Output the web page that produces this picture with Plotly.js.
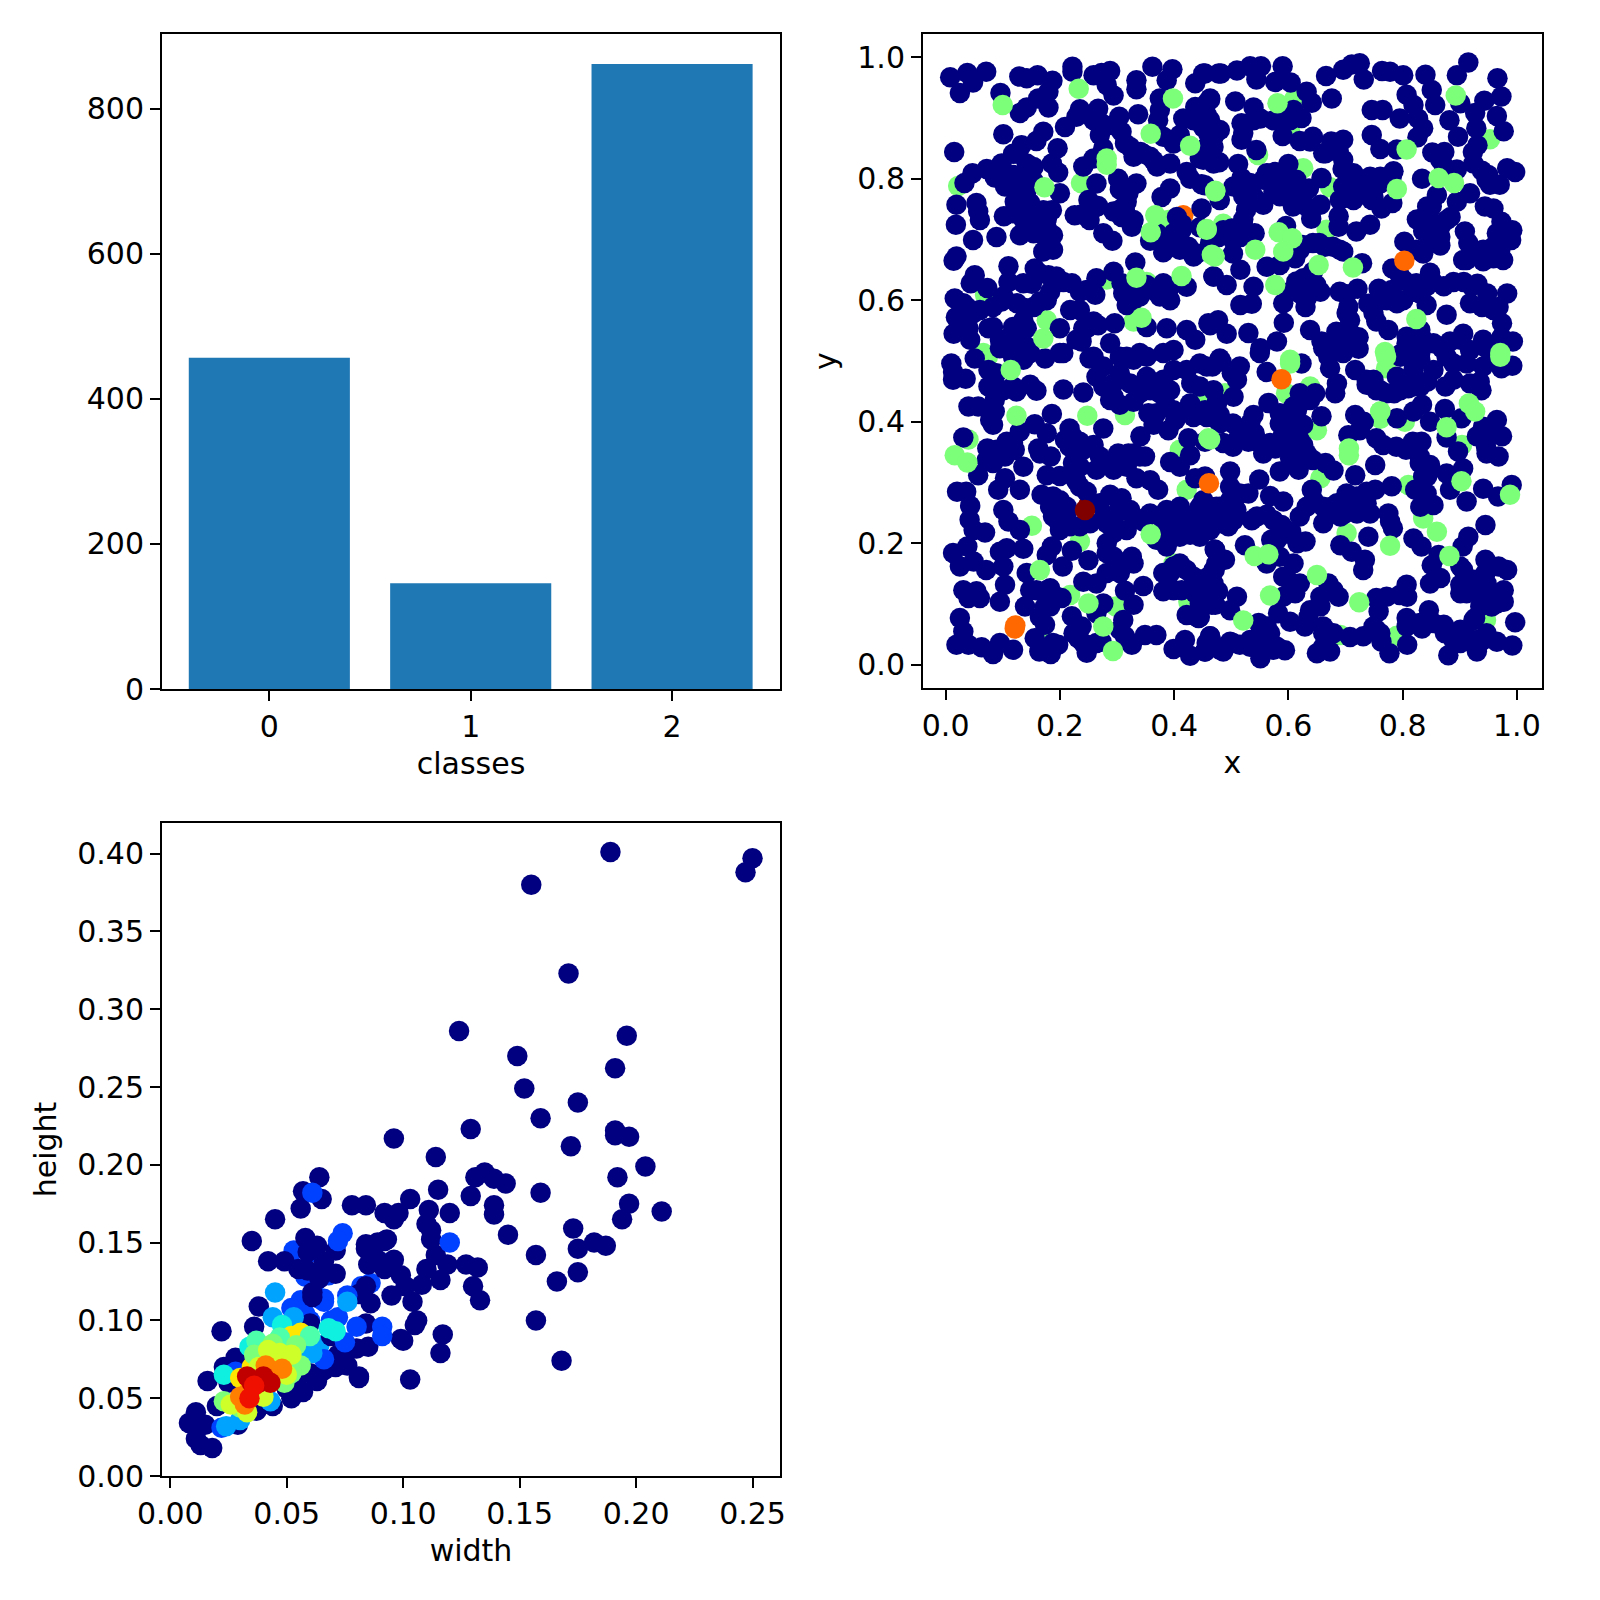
<!DOCTYPE html>
<html><head><meta charset="utf-8">
<script src="https://cdn.plot.ly/plotly-3.0.1.min.js"></script>
<style>html,body{margin:0;padding:0;background:#fff}</style></head>
<body><div id="chart" style="width:1600px;height:1600px"></div>
<script>
const classLabels=[0,1,2];
const classCounts=[457,146,862];

const xyGreenUnder=[[.237,.793],[.022,.788],[.390,.732],[.352,.630],[.282,.634],[.329,.565],[.177,.567],[.069,.609],[.066,.513],[.611,.932],[.603,.877],[.547,.839],[.626,.817],[.953,.865],[.673,.786],[.667,.716],[.486,.726],[.971,.530],[.074,.507],[.314,.411],[.040,.371],[.448,.430],[.422,.288],[.410,.354],[.151,.229],[.235,.203],[.218,.115],[.298,.096],[.174,.038],[.399,.167],[.425,.104],[.771,.488],[.596,.447],[.638,.458],[.489,.447],[.457,.433],[.804,.400],[.650,.386],[.904,.362],[.656,.307],[.810,.296],[.836,.241],[.860,.219],[.702,.217],[.946,.074],[.691,.049],[.790,.048],[.761,.417],[.761,.405]];
const xyOrangeUnder=[[.416,.740]];
const xyMaroonUnder=[[.250,.263]];
const xyNavy=[[.008,.967],[.038,.974],[.025,.941],[.048,.958],[.071,.976],[.096,.941],[.129,.968],[.142,.965],[.161,.970],[.187,.961],[.180,.943],[.162,.932],[.180,.917],[.142,.917],[.130,.908],[.222,.984],[.222,.976],[.259,.970],[.273,.974],[.288,.977],[.282,.954],[.294,.937],[.334,.962],[.334,.947],[.362,.984],[.397,.980],[.387,.962],[.375,.932],[.437,.957],[.451,.973],[.478,.973],[.437,.918],[.463,.932],[.235,.914],[.267,.915],[.304,.902],[.337,.906],[.375,.913],[.372,.896],[.416,.899],[.229,.902],[.209,.885],[.259,.896],[.273,.891],[.270,.872],[.308,.877],[.314,.858],[.101,.873],[.171,.877],[.159,.862],[.133,.855],[.196,.850],[.015,.844],[.127,.841],[.142,.825],[.186,.825],[.276,.850],[.259,.833],[.241,.820],[.197,.810],[.098,.825],[.072,.816],[.047,.809],[.033,.793],[.086,.802],[.104,.787],[.154,.819],[.142,.798],[.154,.796],[.264,.792],[.302,.800],[.334,.792],[.200,.776],[.250,.765],[.267,.755],[.320,.776],[.317,.762],[.378,.770],[.393,.784],[.428,.800],[.448,.791],[.346,.841],[.358,.836],[.329,.836],[.393,.825],[.370,.820],[.410,.872],[.399,.858],[.445,.833],[.460,.874],[.469,.852],[.480,.880],[.422,.811],[.019,.757],[.054,.760],[.057,.746],[.060,.732],[.018,.724],[.048,.699],[.089,.704],[.102,.738],[.130,.707],[.130,.743],[.148,.760],[.171,.748],[.186,.748],[.136,.733],[.159,.726],[.177,.718],[.188,.707],[.226,.740],[.252,.732],[.308,.751],[.276,.710],[.292,.698],[.308,.737],[.326,.721],[.358,.698],[.384,.688],[.381,.679],[.399,.710],[.414,.725],[.425,.688],[.434,.672],[.448,.751],[.478,.704],[.469,.639],[.019,.672],[.014,.665],[.171,.680],[.188,.683],[.110,.656],[.156,.652],[.051,.641],[.044,.628],[.073,.620],[.110,.630],[.151,.627],[.180,.641],[.206,.630],[.235,.614],[.262,.609],[.264,.636],[.294,.647],[.332,.662],[.308,.628],[.329,.617],[.364,.617],[.393,.622],[.422,.622],[.317,.592],[.393,.600],[.016,.603],[.037,.589],[.018,.572],[.048,.578],[.075,.554],[.098,.598],[.139,.587],[.165,.598],[.183,.614],[.218,.584],[.235,.584],[.014,.545],[.040,.554],[.043,.535],[.118,.556],[.142,.554],[.095,.535],[.130,.532],[.142,.524],[.118,.518],[.200,.554],[.238,.532],[.247,.554],[.267,.559],[.296,.562],[.288,.529],[.352,.556],[.387,.554],[.422,.551],[.437,.535],[.460,.562],[.477,.567],
[.010,.496],[.013,.482],[.013,.469],[.035,.471],[.051,.504],[.075,.485],[.075,.458],[.089,.480],[.136,.502],[.174,.504],[.206,.513],[.252,.504],[.276,.491],[.305,.507],[.329,.502],[.352,.507],[.124,.450],[.148,.461],[.159,.451],[.206,.453],[.241,.448],[.276,.458],[.288,.436],[.305,.428],[.329,.433],[.358,.452],[.381,.469],[.399,.485],[.393,.452],[.422,.485],[.445,.496],[.467,.491],[.430,.463],[.475,.430],[.040,.425],[.057,.425],[.086,.417],[.083,.395],[.130,.384],[.156,.396],[.177,.381],[.186,.413],[.217,.389],[.209,.370],[.235,.367],[.276,.389],[.259,.362],[.355,.414],[.364,.395],[.341,.376],[.329,.348],[.349,.343],[.402,.403],[.390,.386],[.425,.373],[.031,.374],[.073,.356],[.107,.367],[.121,.354],[.083,.332],[.104,.343],[.057,.312],[.136,.326],[.162,.356],[.184,.343],[.177,.312],[.200,.311],[.226,.326],[.229,.302],[.241,.354],[.247,.285],[.264,.321],[.288,.329],[.302,.348],[.320,.348],[.334,.307],[.358,.304],[.372,.288],[.393,.334],[.410,.326],[.428,.345],[.437,.307],[.454,.310],[.020,.285],[.036,.285],[.092,.288],[.104,.307],[.130,.288],[.043,.262],[.042,.239],[.101,.255],[.110,.236],[.069,.218],[.049,.222],[.130,.222],[.168,.280],[.188,.277],[.183,.260],[.212,.260],[.197,.236],[.218,.228],[.253,.233],[.288,.280],[.308,.274],[.323,.255],[.299,.249],[.282,.233],[.317,.222],[.346,.236],[.387,.255],[.410,.260],[.445,.260],[.399,.238],[.428,.238],[.469,.233],[.387,.195],[.428,.214],[.472,.189],[.013,.184],[.038,.195],[.025,.162],[.049,.170],[.071,.156],[.095,.186],[.107,.192],[.136,.191],[.101,.162],[.186,.195],[.177,.181],[.221,.188],[.250,.172],[.205,.162],[.142,.151],[.282,.200],[.294,.178],[.326,.178],[.305,.151],[.282,.151],[.241,.137],[.264,.134],[.314,.122],[.346,.130],[.381,.121],[.393,.151],[.410,.167],[.434,.145],[.460,.145],[.474,.167],[.413,.123],[.437,.118],[.469,.118],[.472,.099],[.104,.132],[.095,.104],[.031,.123],[.054,.121],[.040,.110],[.060,.110],[.139,.096],[.148,.123],[.183,.126],[.203,.110],[.174,.096],[.174,.066],[.025,.077],[.031,.055],[.019,.033],[.040,.033],[.063,.029],[.083,.018],[.118,.025],[.095,.036],[.156,.044],[.164,.022],[.184,.018],[.197,.033],[.221,.080],[.238,.063],[.232,.044],[.247,.020],[.273,.038],[.276,.101],[.311,.074],[.329,.099],[.314,.047],[.326,.033],[.349,.049],[.369,.049],[.399,.026],[.422,.082],[.443,.077],[.419,.041],[.428,.015],[.454,.022],[.463,.047],[.480,.025],
[.454,.973],[.482,.973],[.510,.978],[.533,.985],[.552,.985],[.544,.963],[.590,.985],[.577,.959],[.604,.958],[.666,.969],[.696,.979],[.711,.988],[.725,.990],[.732,.963],[.764,.977],[.778,.976],[.801,.970],[.840,.971],[.895,.970],[.915,.991],[.966,.965],[.463,.930],[.507,.927],[.539,.917],[.641,.925],[.676,.932],[.632,.943],[.746,.913],[.765,.913],[.807,.938],[.819,.921],[.851,.946],[.857,.921],[.901,.924],[.973,.935],[.943,.928],[.927,.908],[.965,.903],[.609,.913],[.623,.900],[.574,.896],[.551,.899],[.518,.891],[.795,.899],[.827,.899],[.882,.896],[.836,.883],[.929,.883],[.977,.878],[.457,.905],[.463,.875],[.518,.864],[.590,.870],[.544,.847],[.620,.862],[.643,.869],[.675,.861],[.696,.864],[.746,.872],[.826,.868],[.897,.869],[.761,.849],[.790,.848],[.852,.843],[.873,.844],[.923,.844],[.931,.855],[.665,.842],[.688,.846],[.451,.831],[.479,.827],[.512,.824],[.518,.801],[.600,.824],[.577,.811],[.556,.798],[.695,.816],[.705,.800],[.784,.812],[.743,.803],[.761,.792],[.872,.821],[.895,.815],[.939,.813],[.983,.817],[.997,.811],[.834,.800],[.950,.806],[.953,.790],[.970,.790],[.918,.776],[.895,.762],[.860,.773],[.851,.754],[.944,.754],[.959,.751],[.973,.729],[.992,.715],[.990,.699],[.967,.702],[.976,.666],[.937,.674],[.909,.713],[.915,.694],[.912,.666],[.941,.664],[.840,.740],[.877,.732],[.836,.714],[.866,.704],[.866,.690],[.803,.696],[.824,.683],[.836,.677],[.454,.789],[.480,.765],[.521,.771],[.549,.762],[.526,.749],[.585,.771],[.601,.781],[.608,.754],[.636,.784],[.640,.734],[.658,.801],[.656,.757],[.688,.738],[.688,.721],[.714,.765],[.732,.789],[.719,.713],[.743,.724],[.746,.765],[.763,.751],[.782,.760],[.501,.718],[.520,.726],[.541,.710],[.503,.677],[.445,.720],[.463,.694],[.596,.722],[.625,.691],[.654,.694],[.678,.688],[.696,.680],[.612,.669],[.562,.655],[.585,.658],[.729,.661],[.469,.639],[.492,.625],[.516,.650],[.539,.622],[.626,.636],[.620,.611],[.591,.595],[.630,.589],[.656,.614],[.690,.614],[.721,.619],[.705,.589],[.740,.594],[.758,.619],[.781,.617],[.790,.595],[.819,.614],[.782,.652],[.795,.641],[.848,.645],[.872,.623],[.907,.630],[.931,.627],[.948,.611],[.983,.611],[.918,.595],[.939,.589],[.968,.589],[.842,.592],[.877,.576],[.974,.562],[.463,.559],[.492,.545],[.516,.592],[.536,.594],[.530,.546],[.592,.563],[.638,.551],[.658,.532],[.684,.548],[.705,.554],[.723,.539],[.723,.520],[.754,.565],[.775,.551],[.551,.521],[.580,.532],[.480,.504],[.807,.529],[.836,.535],[.883,.532],[.906,.545],[.869,.521],[.918,.518],[.947,.521],[.973,.539],[.993,.532],[.824,.511],
[.457,.491],[.483,.499],[.515,.491],[.501,.480],[.510,.469],[.562,.482],[.550,.513],[.623,.496],[.670,.507],[.673,.488],[.685,.463],[.682,.447],[.620,.447],[.647,.447],[.717,.485],[.737,.461],[.761,.452],[.785,.447],[.810,.455],[.843,.466],[.889,.469],[.875,.458],[.918,.463],[.935,.466],[.938,.452],[.973,.488],[.992,.492],[.831,.513],[.877,.507],[.504,.441],[.475,.433],[.565,.431],[.454,.419],[.480,.411],[.503,.397],[.539,.411],[.533,.397],[.518,.381],[.541,.381],[.585,.414],[.609,.425],[.600,.400],[.626,.395],[.658,.409],[.717,.411],[.732,.400],[.790,.406],[.834,.428],[.819,.417],[.874,.421],[.848,.400],[.903,.406],[.965,.403],[.947,.387],[.974,.376],[.945,.370],[.946,.359],[.968,.343],[.705,.378],[.725,.386],[.754,.373],[.766,.362],[.789,.359],[.818,.367],[.833,.367],[.806,.354],[.830,.332],[.848,.329],[.877,.374],[.897,.351],[.454,.367],[.503,.359],[.530,.367],[.556,.348],[.577,.356],[.603,.359],[.626,.362],[.603,.340],[.643,.337],[.665,.332],[.618,.321],[.585,.318],[.679,.320],[.752,.329],[.717,.312],[.498,.318],[.498,.293],[.549,.305],[.530,.282],[.568,.278],[.591,.269],[.641,.288],[.632,.260],[.620,.244],[.489,.255],[.509,.255],[.495,.228],[.457,.238],[.536,.238],[.562,.247],[.588,.230],[.605,.219],[.630,.203],[.616,.200],[.524,.197],[.570,.206],[.661,.233],[.676,.260],[.702,.282],[.725,.260],[.743,.249],[.699,.249],[.752,.288],[.781,.294],[.737,.285],[.691,.197],[.711,.186],[.740,.211],[.734,.173],[.731,.156],[.775,.249],[.778,.236],[.783,.225],[.819,.208],[.833,.195],[.822,.288],[.831,.260],[.854,.263],[.843,.310],[.877,.315],[.883,.288],[.906,.323],[.912,.269],[.941,.290],[.967,.277],[.991,.296],[.945,.230],[.915,.211],[.905,.195],[.863,.181],[.851,.164],[.848,.134],[.866,.143],[.901,.162],[.945,.173],[.968,.162],[.983,.156],[.901,.132],[.901,.118],[.924,.140],[.932,.121],[.945,.151],[.977,.123],[.977,.104],[.956,.096],[.936,.096],[.927,.077],[.997,.070],[.965,.038],[.992,.032],[.947,.052],[.930,.022],[.880,.016],[.901,.036],[.807,.077],[.807,.063],[.846,.090],[.834,.060],[.872,.066],[.874,.052],[.901,.058],[.808,.033],[.777,.019],[.795,.115],[.807,.132],[.808,.112],[.754,.110],[.772,.112],[.758,.088],[.754,.058],[.763,.038],[.731,.047],[.708,.046],[.679,.052],[.661,.052],[.673,.022],[.650,.019],[.688,.112],[.670,.134],[.656,.096],[.635,.079],[.629,.063],[.620,.134],[.612,.118],[.597,.143],[.603,.071],[.582,.085],[.591,.112],[.510,.112],[.498,.090],[.466,.099],[.457,.118],[.477,.121],[.489,.173],[.471,.190],[.471,.156],[.454,.140],[.548,.069],[.568,.052],[.463,.047],[.454,.022],[.486,.022],[.515,.033],[.498,.038],[.533,.041],[.551,.011],[.594,.024],[.574,.025]];
const xyNavyFill=[[.381,.869],[.364,.830],[.341,.844],[.323,.852],[.294,.888],[.434,.896],[.463,.896],[.469,.825],[.451,.884],[.118,.841],[.118,.806],[.130,.787],[.142,.781],[.121,.762],[.142,.751],[.118,.743],[.159,.740],[.177,.733],[.145,.721],[.171,.707],[.154,.710],[.305,.782],[.294,.746],[.329,.732],[.259,.751],[.238,.741],[.314,.746],[.387,.699],[.410,.683],[.440,.677],[.399,.688],[.370,.710],[.405,.737],[.413,.715],[.194,.639],[.221,.628],[.247,.617],[.165,.644],[.136,.628],[.101,.606],[.125,.595],[.154,.589],[.177,.600],[.031,.595],[.060,.584],[.083,.589],[.025,.567],[.329,.600],[.340,.606],[.375,.606],[.352,.625],[.381,.628],[.311,.611],[.241,.554],[.229,.535],[.259,.565],[.113,.540],[.136,.567],[.083,.556],[.095,.521],[.118,.507],[.148,.513],[.317,.507],[.340,.513],[.381,.513],[.399,.518],[.259,.507],[.200,.513],
[.457,.924],[.451,.891],[.469,.869],[.457,.852],[.539,.896],[.585,.896],[.603,.896],[.521,.875],[.638,.861],[.661,.842],[.679,.847],[.696,.831],[.714,.809],[.696,.787],[.690,.765],[.720,.787],[.761,.803],[.781,.803],[.749,.770],[.737,.775],[.504,.787],[.533,.793],[.539,.771],[.562,.809],[.591,.803],[.614,.798],[.620,.771],[.632,.754],[.574,.779],[.556,.757],[.585,.793],[.866,.831],[.924,.825],[.947,.798],[.843,.754],[.825,.733],[.854,.727],[.884,.737],[.848,.704],[.866,.721],[.965,.710],[.959,.688],[.971,.683],[.906,.666],[.941,.683],[.924,.683],[.959,.669],[.521,.733],[.486,.715],[.516,.704],[.503,.699],[.620,.683],[.643,.694],[.664,.688],[.690,.683],[.632,.625],[.649,.625],[.643,.647],[.614,.631],[.603,.614],[.632,.603],[.802,.633],[.824,.628],[.853,.630],[.889,.630],[.921,.623],[.842,.623],[.959,.584],[.801,.600],[.830,.611],[.761,.611],[.772,.600],[.702,.579],[.708,.567],[.702,.610],[.749,.579],[.831,.551],[.807,.540],[.854,.529],[.819,.518],[.901,.535],[.959,.518],[.941,.535],[.796,.511],[.702,.535],[.679,.532],[.661,.521],[.696,.513],[.871,.524],
[.086,.436],[.078,.403],[.118,.458],[.101,.452],[.294,.463],[.264,.474],[.305,.480],[.294,.441],[.323,.463],[.340,.447],[.352,.474],[.375,.447],[.387,.425],[.369,.414],[.399,.419],[.410,.414],[.428,.430],[.434,.408],[.457,.408],[.469,.452],[.445,.458],[.223,.375],[.217,.359],[.223,.332],[.235,.326],[.235,.293],[.200,.271],[.212,.249],[.200,.222],[.188,.244],[.235,.228],[.278,.244],[.305,.266],[.294,.244],[.329,.244],[.358,.249],[.375,.244],[.410,.233],[.440,.249],[.457,.233],[.474,.260],[.369,.206],[.381,.222],[.410,.211],[.445,.211],[.463,.222],[.270,.266],[.294,.217],[.282,.184],[.329,.167],[.305,.167],[.165,.348],[.294,.321],[.270,.343],[.317,.326],[.340,.343],[.118,.365],[.089,.354],[.072,.337],[.381,.151],[.399,.162],[.422,.156],[.445,.140],[.469,.156],[.469,.134],[.399,.123],[.445,.123],[.457,.101],[.440,.079],[.177,.123],[.159,.123],[.194,.112],[.183,.096],[.165,.079],[.224,.052],[.241,.036],[.264,.036],[.305,.058],[.317,.041],[.264,.085],[.188,.036],
[.737,.469],[.754,.452],[.772,.447],[.796,.452],[.819,.458],[.831,.458],[.807,.469],[.790,.474],[.749,.469],[.819,.485],[.854,.485],[.912,.496],[.941,.491],[.889,.496],[.831,.502],[.796,.507],[.638,.436],[.615,.419],[.585,.397],[.591,.381],[.615,.381],[.603,.370],[.620,.370],[.614,.343],[.632,.348],[.568,.365],[.550,.365],[.527,.381],[.480,.397],[.469,.408],[.510,.370],[.486,.365],[.941,.392],[.959,.381],[.947,.348],[.930,.376],[.819,.354],[.830,.343],[.836,.310],[.842,.282],[.702,.277],[.685,.266],[.661,.260],[.668,.249],[.691,.244],[.720,.277],[.737,.266],[.720,.249],[.644,.271],[.515,.282],[.498,.271],[.480,.260],[.504,.238],[.480,.233],[.463,.260],[.451,.271],[.457,.244],[.545,.244],[.574,.238],[.597,.216],[.580,.206],[.585,.178],[.609,.167],[.562,.167],[.591,.145],[.906,.156],[.912,.140],[.930,.140],[.947,.134],[.912,.118],[.941,.112],[.953,.112],[.965,.101],[.924,.074],[.912,.047],[.930,.041],[.941,.041],[.883,.052],[.854,.069],[.830,.069],[.889,.041],[.551,.052],[.556,.036],[.533,.030],[.562,.063],[.503,.036],[.475,.030],[.457,.036],[.580,.030],[.661,.063],[.661,.030],[.749,.063],[.761,.052],[.656,.112],[.679,.123],[.638,.090],[.445,.101],[.445,.079]];
const xyGreenTop=[[.233,.948],[.100,.921],[.398,.932],[.359,.874],[.282,.833],[.282,.823],[.173,.786],[.428,.854],[.367,.740],[.359,.712],[.457,.717],[.472,.780],[.471,.672],[.413,.640],[.334,.637],[.343,.571],[.171,.537],[.893,.937],[.581,.924],[.472,.779],[.807,.848],[.790,.783],[.863,.801],[.890,.793],[.583,.712],[.607,.702],[.591,.680],[.542,.683],[.457,.716],[.466,.675],[.653,.658],[.713,.654],[.577,.625],[.824,.569],[.769,.515],[.603,.502],[.971,.513],[.114,.485],[.124,.410],[.248,.410],[.016,.345],[.038,.333],[.460,.373],[.359,.215],[.165,.156],[.250,.101],[.276,.063],[.293,.023],[.603,.496],[.771,.507],[.971,.507],[.916,.430],[.927,.417],[.761,.417],[.877,.391],[.463,.371],[.706,.356],[.706,.345],[.903,.302],[.988,.280],[.778,.196],[.541,.179],[.565,.182],[.882,.179],[.650,.148],[.568,.114],[.724,.103],[.521,.073]];
const xyOrangeTop=[[.803,.665],[.461,.299],[.588,.470],[.121,.060],[.122,.065]];
const xyMaroonTop=[[.244,.255]];

const whBlueUnder=[[.053,.145],[.062,.144],[.068,.129],[.091,.137],[.082,.122],[.086,.124],[.056,.110],[.066,.114],[.056,.113],[.064,.114],[.058,.128],[.062,.124],[.066,.112],[.058,.104],[.052,.108],[.060,.100],[.069,.100]];
const whSkyUnder=[[.050,.094],[.056,.096],[.054,.086],[.058,.082],[.064,.084]];
const whNavy=[[.189,.401],[.250,.397],[.247,.388],[.155,.380],[.171,.323],[.124,.286],[.196,.283],[.149,.270],[.191,.262],[.152,.249],[.175,.240],[.159,.230],[.129,.223],[.191,.222],[.191,.219],[.197,.218],[.096,.217],[.172,.212],[.114,.205],[.204,.199],[.064,.192],[.135,.195],[.131,.192],[.192,.192],[.139,.191],[.144,.188],[.057,.183],[.115,.184],[.159,.182],[.129,.180],[.065,.178],[.103,.178],[.078,.174],[.084,.174],[.197,.175],[.139,.174],[.139,.168],[.211,.170],[.056,.172],[.111,.171],[.120,.169],[.092,.169],[.098,.169],[.045,.165],[.194,.165],[.096,.165],[.110,.162],[.112,.158],[.173,.159],[.145,.155],[.035,.151],[.112,.152],[.092,.151],[.084,.149],[.175,.146],[.182,.150],[.187,.148],[.114,.142],[.157,.142],[.127,.136],[.132,.134],[.175,.131],[.042,.138],[.049,.138],[.166,.125],[.116,.126],[.130,.122],[.133,.113],[.104,.112],[.157,.100],[.117,.091],[.116,.079],[.168,.074],[.106,.100],[.099,.088],[.103,.062],[.081,.064],[.058,.153],[.063,.148],[.059,.144],[.071,.145],[.084,.146],[.089,.150],[.093,.152],[.055,.133],[.059,.132],[.066,.138],[.071,.130],[.064,.127],[.061,.115],[.061,.118],[.085,.136],[.089,.139],[.096,.139],[.092,.133],[.099,.129],[.110,.133],[.119,.136],[.108,.123],[.101,.122],[.095,.116],[.084,.122],[.081,.117],[.086,.111],[.038,.109],[.036,.096],[.022,.093],[.105,.097],[.100,.087],[.069,.090],[.060,.098],[.084,.098],[.080,.082],[.085,.083],[.071,.070],[.076,.071],[.081,.063],[.063,.061],[.057,.054],[.028,.076],[.023,.070],[.016,.061],[.025,.060],[.020,.045],[.011,.041],[.008,.034],[.015,.033],[.011,.024],[.013,.020],[.018,.018],[.029,.033],[.044,.045],[.037,.042],[.050,.056],[.054,.060],[.060,.066],[.066,.068],[.072,.078],[.075,.080],[.052,.050]];
const whBlue=[[.061,.182],[.074,.156],[.072,.151],[.120,.150],[.076,.116],[.072,.102],[.091,.096],[.091,.090],[.066,.075],[.075,.086],[.080,.096],[.022,.031],[.028,.067]];
const whSky=[[.045,.118],[.044,.102],[.076,.112],[.053,.102],[.057,.090],[.061,.079],[.043,.048],[.030,.036],[.024,.032]];
const whCyan=[[.048,.097],[.023,.065],[.034,.083],[.068,.095],[.071,.093]];
const whYellow=[[.056,.092],[.030,.063],[.035,.070],[.052,.090]];
const whAqua=[[.047,.089],[.037,.087],[.060,.090]];
const whGreen=[[.036,.078],[.054,.084],[.056,.071],[.023,.048],[.049,.060],[.042,.065],[.044,.085],[.052,.066],[.030,.044]];
const whLime=[[.042,.081],[.047,.079],[.033,.041],[.026,.046],[.040,.051],[.046,.074],[.038,.070],[.052,.078],[.050,.065]];
const whOrange=[[.041,.071],[.048,.069],[.030,.051],[.034,.055],[.032,.046]];
const whDarkRed=[[.033,.064],[.043,.060],[.040,.064],[.035,.060],[.038,.060]];
const whRed=[[.036,.058],[.034,.050]];

const W=1600,H=1600;
const fx=(a,b)=>[a/W,b/W], fy=(a,b)=>[1-b/H,1-a/H];
const font={family:'"DejaVu Sans"',size:30,color:'#000'};
const axis=(domain,range,extra)=>Object.assign({domain,range,showline:true,linecolor:'#000',linewidth:2,mirror:true,ticks:'outside',ticklen:10,tickwidth:2,tickcolor:'#000',showgrid:false,zeroline:false,tickfont:font,automargin:false},extra);
const scat=(pts,color,xa,ya)=>({type:'scatter',mode:'markers',x:pts.map(p=>p[0]),y:pts.map(p=>p[1]),xaxis:xa,yaxis:ya,hoverinfo:'skip',marker:{size:20.5,color,line:{width:0}}});

const traces=[
 {type:'bar',x:classLabels,y:classCounts,width:.8,marker:{color:'#1f77b4',line:{width:0}},xaxis:'x',yaxis:'y'},
 scat(xyGreenUnder,'#7CFF79','x2','y2'),scat(xyOrangeUnder,'#FF6800','x2','y2'),scat(xyMaroonUnder,'#800000','x2','y2'),
 scat(xyNavy,'#000080','x2','y2'),scat(xyNavyFill,'#000080','x2','y2'),scat(xyGreenTop,'#7CFF79','x2','y2'),scat(xyOrangeTop,'#FF6800','x2','y2'),scat(xyMaroonTop,'#800000','x2','y2'),
 scat(whBlueUnder,'#0040FF','x3','y3'),scat(whSkyUnder,'#00A4FF','x3','y3'),scat(whNavy,'#000080','x3','y3'),scat(whBlue,'#0040FF','x3','y3'),scat(whSky,'#00A4FF','x3','y3'),scat(whCyan,'#0FF0E0','x3','y3'),scat(whYellow,'#FFE600','x3','y3'),scat(whAqua,'#4DFFAA','x3','y3'),scat(whGreen,'#7CFF79','x3','y3'),scat(whLime,'#CEFF29','x3','y3'),scat(whOrange,'#FF8000','x3','y3'),scat(whDarkRed,'#C00000','x3','y3'),scat(whRed,'#F01000','x3','y3')
];
const layout={width:W,height:H,showlegend:false,paper_bgcolor:'#fff',plot_bgcolor:'#fff',margin:{l:0,r:0,t:0,b:0},font,
 xaxis:axis(fx(162,780),[-.533,2.536],{tickvals:[0,1,2],ticktext:['0','1','2'],title:{text:'classes',font,standoff:10},anchor:'y'}),
 yaxis:axis(fy(34,689),[0,903.4],{tickvals:[0,200,400,600,800],anchor:'x'}),
 xaxis2:axis(fx(923,1542),[-.0396,1.044],{tickvals:[0,.2,.4,.6,.8,1],ticktext:['0.0','0.2','0.4','0.6','0.8','1.0'],title:{text:'x',font,standoff:10},anchor:'y2'}),
 yaxis2:axis(fy(34,688),[-.038,1.038],{tickvals:[0,.2,.4,.6,.8,1],ticktext:['0.0','0.2','0.4','0.6','0.8','1.0'],title:{text:'y',font,standoff:12},anchor:'x2'}),
 xaxis3:axis(fx(162,780),[-.00356,.2618],{tickvals:[0,.05,.1,.15,.2,.25],ticktext:['0.00','0.05','0.10','0.15','0.20','0.25'],title:{text:'width',font,standoff:10},anchor:'y3'}),
 yaxis3:axis(fy(823,1476),[0,.4197],{tickvals:[0,.05,.1,.15,.2,.25,.3,.35,.4],ticktext:['0.00','0.05','0.10','0.15','0.20','0.25','0.30','0.35','0.40'],title:{text:'height',font,standoff:12},anchor:'x3'})
};
Plotly.newPlot('chart',traces,layout,{staticPlot:true,displayModeBar:false});
</script></body></html>
